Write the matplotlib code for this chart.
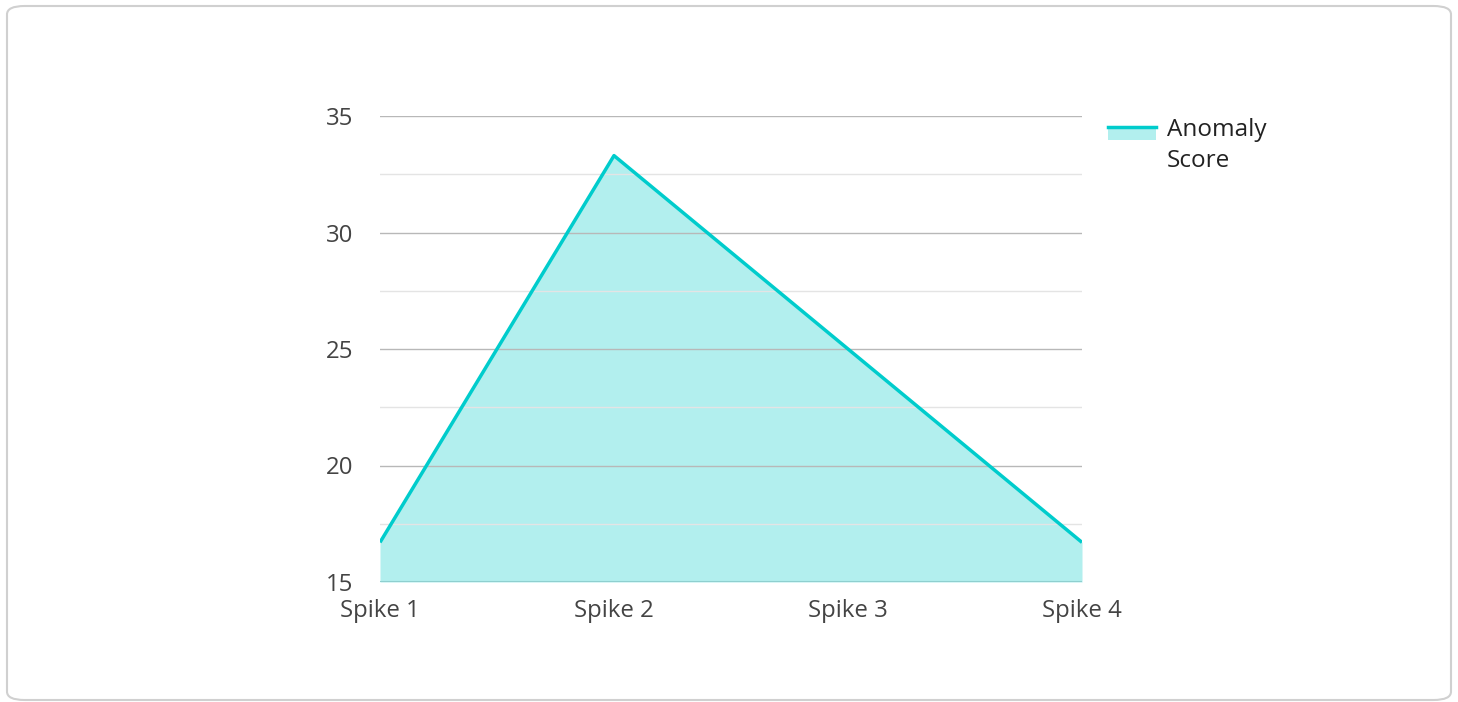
import matplotlib
matplotlib.use("Agg")
import matplotlib.pyplot as plt
from matplotlib.patches import FancyBboxPatch, Rectangle
from matplotlib.lines import Line2D

plt.rcParams['font.family'] = ['Open Sans', 'DejaVu Sans']

categories = ["Spike 1", "Spike 2", "Spike 3", "Spike 4"]
anomaly_score = [16.7, 33.3, 25.0, 16.7]
series_lines = ["Anomaly", "Score"]

line_color = "#00CCCC"
fill_color = "#B2EFEE"

W, H = 1458, 702
fig = plt.figure(figsize=(W / 100, H / 100), dpi=100)

# rounded card border
card = FancyBboxPatch((7 / W, 2 / H), 1444 / W, 694 / H,
                      boxstyle="round,pad=0,rounding_size=0.012",
                      transform=fig.transFigure, facecolor="none",
                      edgecolor="#d0d0d0", linewidth=1.5, zorder=-1)
fig.patches.append(card)

ax = fig.add_axes([380 / W, 1 - 582 / H, (1082 - 380) / W, (582 - 116) / H])
ax.set_facecolor("none")

x = list(range(len(categories)))
ax.fill_between(x, 15, anomaly_score, color=fill_color, linewidth=0, zorder=2)
ax.plot(x, anomaly_score, color=line_color, linewidth=2.5, zorder=3,
        solid_capstyle="butt")

ax.set_xlim(0, len(categories) - 1)
ax.set_ylim(15, 35)
ax.set_yticks([15, 20, 25, 30, 35])
ax.set_yticks([17.5, 22.5, 27.5, 32.5], minor=True)
ax.grid(axis="y", which="major", color="#b8b8b8", linewidth=1, zorder=2.5)
ax.grid(axis="y", which="minor", color="#e4e4e4", linewidth=1, zorder=1)
ax.set_axisbelow(False)
ax.axhline(15, color="#8fcfcf", linewidth=1.5, zorder=4)

ax.set_xticks(x)
ax.set_xticklabels(categories)
for s in ax.spines.values():
    s.set_visible(False)
ax.tick_params(axis="both", which="both", length=0, labelsize=17.3, colors="#444444")
ax.tick_params(axis="y", pad=19)
ax.tick_params(axis="x", pad=12)

# legend
tf = fig.transFigure
fig.patches.append(Rectangle((1108 / W, 1 - 140 / H), 48 / W, 14 / H,
                             transform=tf, facecolor=fill_color, edgecolor="none"))
fig.lines.append(Line2D([1108 / W, 1156 / W], [1 - 127 / H, 1 - 127 / H],
                        transform=tf, color=line_color, linewidth=2.5))
for i, s in enumerate(series_lines):
    fig.text(1167 / W, 1 - (136 + 31 * i) / H, s, fontsize=17.5,
             color="#222222", va="baseline")

fig.savefig("out.png", dpi=100)
